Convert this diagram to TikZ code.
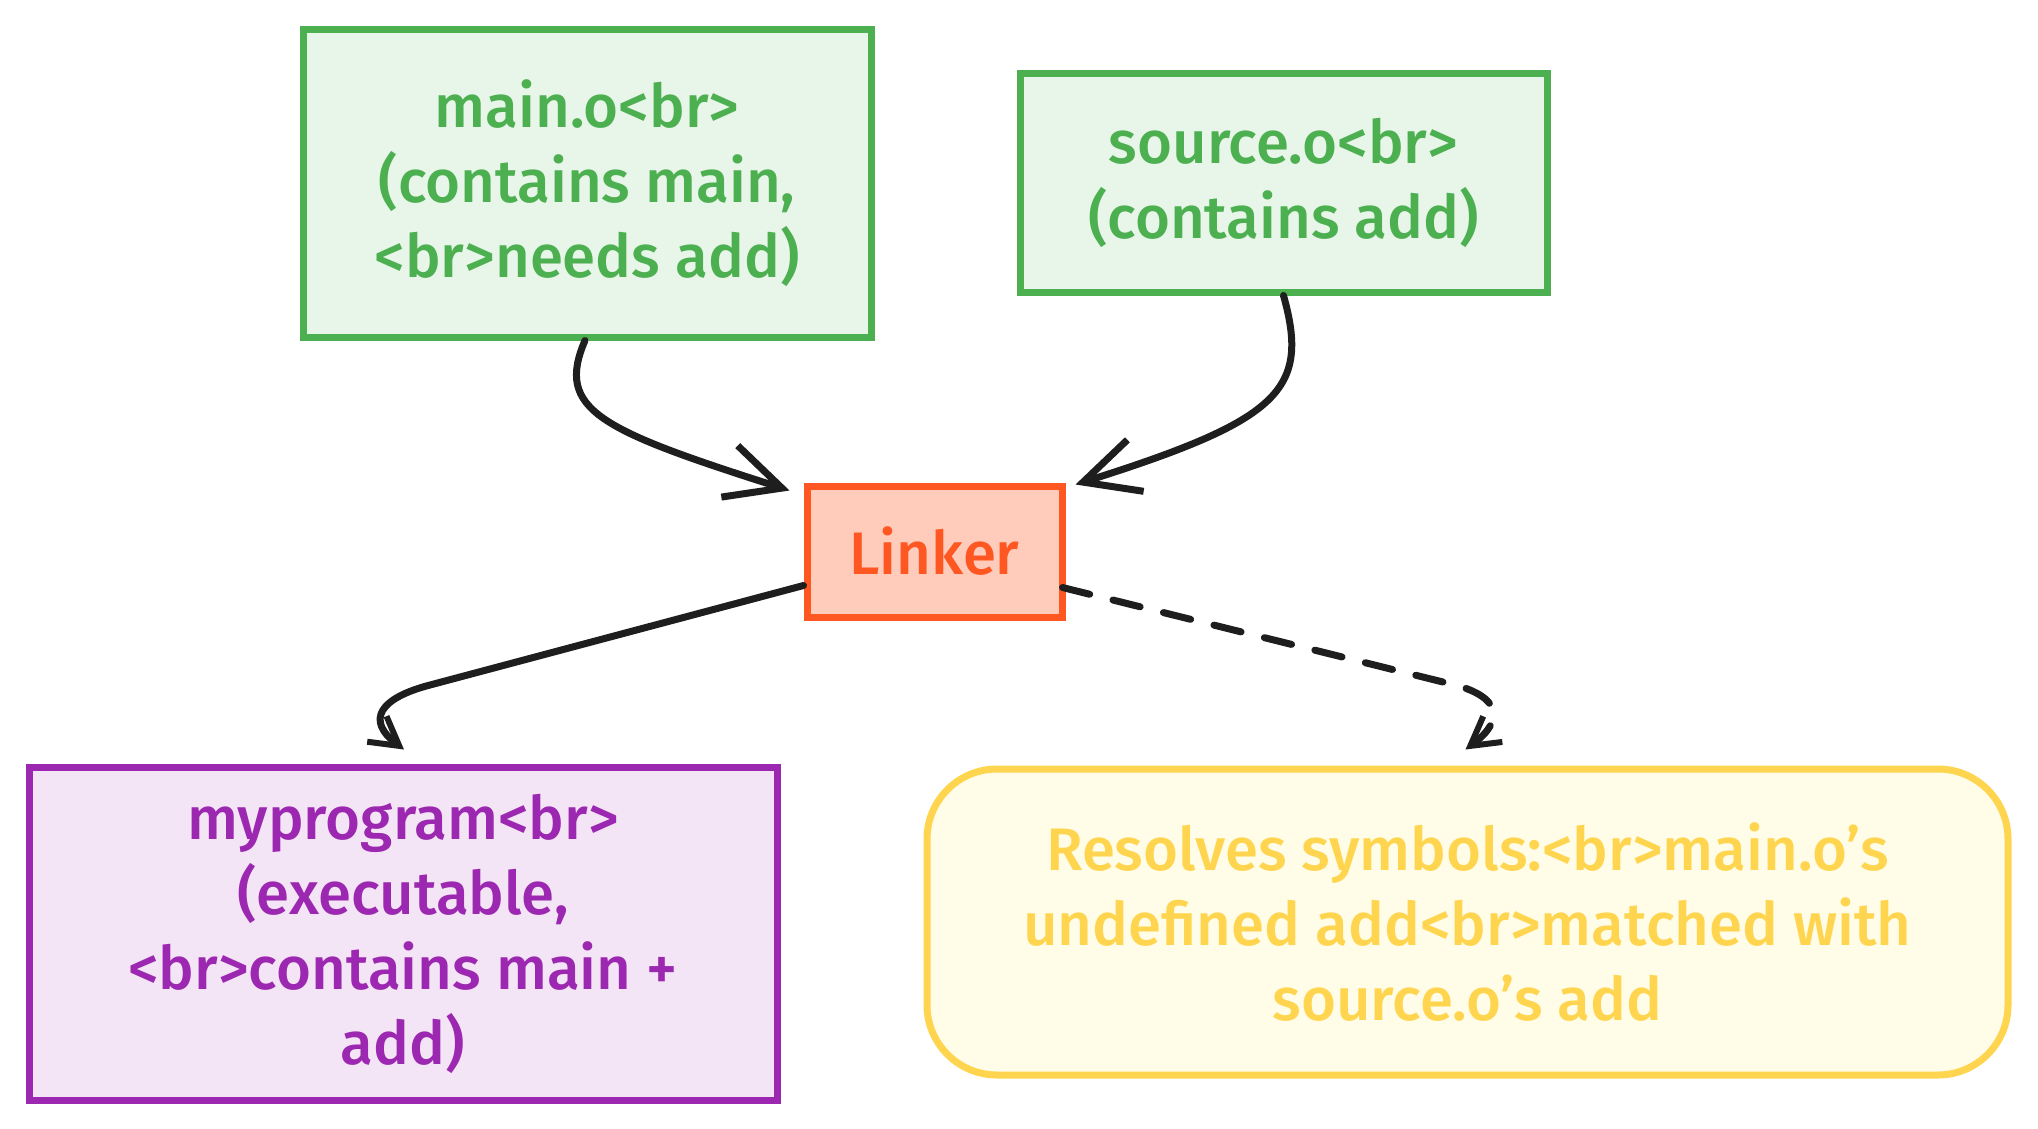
\documentclass[tikz,border=0pt]{standalone}
\usepackage{fontspec}
\setmainfont{Fira Sans}[UprightFont=* Medium]
\usetikzlibrary{arrows.meta,calc}
\definecolor{gstroke}{HTML}{4CAF50}
\definecolor{gfill}{HTML}{E8F5E9}
\definecolor{ostroke}{HTML}{FF5722}
\definecolor{ofill}{HTML}{FFCCBC}
\definecolor{pstroke}{HTML}{9C27B0}
\definecolor{pfill}{HTML}{F3E5F5}
\definecolor{ystroke}{HTML}{FFD54F}
\definecolor{yfill}{HTML}{FFFDE7}
\definecolor{ink}{HTML}{1E1E1E}
\begin{document}
\begin{tikzpicture}[x=1pt,y=-1pt,
  box/.style={draw, line width=7pt, align=center, inner sep=0pt,
    font=\fontsize{60}{75}\selectfont},
  gbox/.style={box, draw=gstroke, fill=gfill, text=gstroke},
  obox/.style={box, draw=ostroke, fill=ofill, text=ostroke},
  pbox/.style={box, draw=pstroke, fill=pfill, text=pstroke},
  ybox/.style={box, draw=ystroke, fill=yfill, text=ystroke, rounded corners=70pt},
  conn/.style={draw=ink, line width=7pt, line cap=round, line join=round},
  bighead/.style={-{Straight Barb[length=55pt,width=54pt,line width=7pt]}},
  smallhead/.style={-{Straight Barb[length=28pt,width=32pt,line width=6pt]}},
]
\useasboundingbox (0,0) rectangle (2038,1128);
\fill[white] (0,0) rectangle (2038,1128);

\node[gbox, minimum width=568pt, minimum height=308pt] (mo) at (587,183)
  {main.o<br>\\(contains main,\\<br>needs add)};
\node[gbox, minimum width=527pt, minimum height=219pt] (so) at (1283.5,182.5)
  {source.o<br>\\(contains add)};
\node[obox, minimum width=255pt, minimum height=131pt] (lk) at (934.5,551.5)
  {Linker};
\node[pbox, minimum width=748pt, minimum height=333pt] (mp) at (403,933.5)
  {myprogram<br>\\(executable,\\<br>contains main +\\add)};
\node[ybox, minimum width=1081pt, minimum height=306pt] (rs) at (1467.5,922)
  {Resolves symbols:<br>main.o's\\undefined add<br>matched with\\source.o's add};

% main.o -> Linker
\coordinate (a1s) at ($(mo.south)+(-2,0)$);
\coordinate (a1e) at ($(lk.north west)+(-14,8)$);
\draw[conn, bighead] (a1s) .. controls (555,410) and (600,430) .. (a1e);
% source.o -> Linker
\coordinate (a2s) at ($(so.south)+(0,0)$);
\coordinate (a2e) at ($(lk.north east)+(10,2)$);
\draw[conn, bighead] (a2s) .. controls (1310,390) and (1280,420) .. (a2e);
% Linker -> myprogram
\coordinate (a3s) at ($(lk.west)+(0,34)$);
\coordinate (a3e) at ($(mp.north)+(1,-14)$);
\draw[conn, smallhead] (a3s) -- (430,685) .. controls (380,698) and (365,720) .. (a3e);
% Linker -> Resolves (dashed)
\coordinate (a4s) at ($(lk.east)+(-3,36)$);
\coordinate (a4e) at ($(rs.north)+(-2,-16)$);
\draw[conn, smallhead, dash pattern=on 28pt off 24pt] (a4s) -- (1455,685) .. controls (1500,697) and (1505,720) .. (a4e);
\end{tikzpicture}
\end{document}
